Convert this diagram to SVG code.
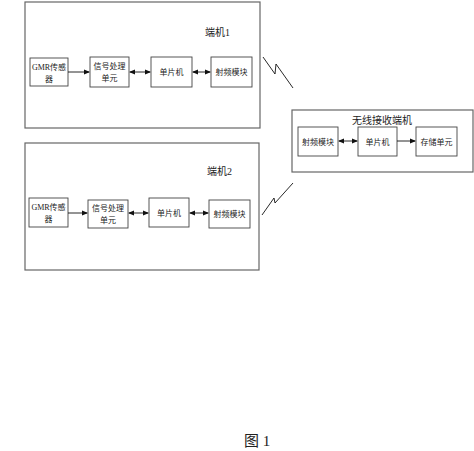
<svg xmlns="http://www.w3.org/2000/svg" width="474" height="451" viewBox="0 0 474 451">
<defs>
<marker id="ah" markerWidth="6" markerHeight="6" refX="5" refY="3" orient="auto" markerUnits="userSpaceOnUse">
<path d="M0,0.5 L6,3 L0,5.5 Z" fill="#111"/>
</marker>
<marker id="as" markerWidth="6" markerHeight="6" refX="1" refY="3" orient="auto" markerUnits="userSpaceOnUse">
<path d="M6,0.5 L0,3 L6,5.5 Z" fill="#111"/>
</marker>
</defs>
<style>
.frame{fill:none;stroke:#666;stroke-width:1.2}
.box{fill:#fff;stroke:#444;stroke-width:0.9}
.t{font-family:"Liberation Serif","Noto Sans CJK SC",serif;font-size:8px;fill:#222;text-anchor:middle}
.title{font-family:"Liberation Serif","Noto Sans CJK SC",serif;font-size:10px;fill:#222}
.ln{stroke:#111;stroke-width:0.9;fill:none}
</style>
<rect width="474" height="451" fill="#fff"/>

<g id="terminal1">
<rect class="frame" x="25" y="2" width="235" height="126"/>
<text class="title" x="205" y="36">端机1</text>
</g>
<g id="t1-gmr"><rect class="box" x="30" y="58" width="38" height="28"/><text class="t" x="49" y="70">GMR传感</text><text class="t" x="49" y="82">器</text></g>
<g id="t1-sig"><rect class="box" x="90" y="57" width="39" height="30"/><text class="t" x="109.5" y="69">信号处理</text><text class="t" x="109.5" y="81">单元</text></g>
<g id="t1-mcu"><rect class="box" x="151" y="57" width="41" height="30"/><text class="t" x="171.5" y="75">单片机</text></g>
<g id="t1-rf"><rect class="box" x="211" y="57" width="41" height="30"/><text class="t" x="231.5" y="75">射频模块</text></g>

<g id="terminal2">
<rect class="frame" x="25" y="143" width="234" height="127"/>
<text class="title" x="207" y="175">端机2</text>
</g>
<g id="t2-gmr"><rect class="box" x="29" y="198" width="39" height="29"/><text class="t" x="48.5" y="210">GMR传感</text><text class="t" x="48.5" y="222">器</text></g>
<g id="t2-sig"><rect class="box" x="88" y="200" width="40" height="28"/><text class="t" x="108" y="211">信号处理</text><text class="t" x="108" y="223">单元</text></g>
<g id="t2-mcu"><rect class="box" x="149" y="198" width="40" height="29"/><text class="t" x="169" y="216">单片机</text></g>
<g id="t2-rf"><rect class="box" x="209" y="200" width="41" height="28"/><text class="t" x="229.5" y="217">射频模块</text></g>

<g id="receiver">
<rect class="frame" x="292" y="110" width="181" height="62"/>
<text class="title" x="382" y="124" text-anchor="middle">无线接收端机</text>
</g>
<g id="r-rf"><rect class="box" x="298" y="127" width="40" height="29"/><text class="t" x="318" y="145">射频模块</text></g>
<g id="r-mcu"><rect class="box" x="358" y="127" width="39" height="29"/><text class="t" x="377.5" y="145">单片机</text></g>
<g id="r-mem"><rect class="box" x="416" y="127" width="41" height="29"/><text class="t" x="436.5" y="145">存储单元</text></g>

<g id="connectors">
<line class="ln" x1="68" y1="72" x2="89" y2="72" marker-end="url(#ah)"/>
<line class="ln" x1="130" y1="72" x2="150" y2="72" marker-start="url(#as)" marker-end="url(#ah)"/>
<line class="ln" x1="193" y1="72" x2="210" y2="72" marker-start="url(#as)" marker-end="url(#ah)"/>
<line class="ln" x1="68" y1="213" x2="87" y2="213" marker-end="url(#ah)"/>
<line class="ln" x1="129" y1="213" x2="148" y2="213" marker-start="url(#as)" marker-end="url(#ah)"/>
<line class="ln" x1="190" y1="213" x2="208" y2="213" marker-start="url(#as)" marker-end="url(#ah)"/>
<line class="ln" x1="339" y1="141" x2="357" y2="141" marker-start="url(#as)" marker-end="url(#ah)"/>
<line class="ln" x1="397" y1="141" x2="415" y2="141" marker-end="url(#ah)"/>
<polyline class="ln" points="263,57 275,74 276,64 293,88"/>
<polyline class="ln" points="262,215 274,198 275,203 293,183"/>
</g>

<text x="244" y="446" style="font-family:'Liberation Serif','Noto Sans CJK SC',serif;font-size:15px;fill:#222">图 1</text>
</svg>
